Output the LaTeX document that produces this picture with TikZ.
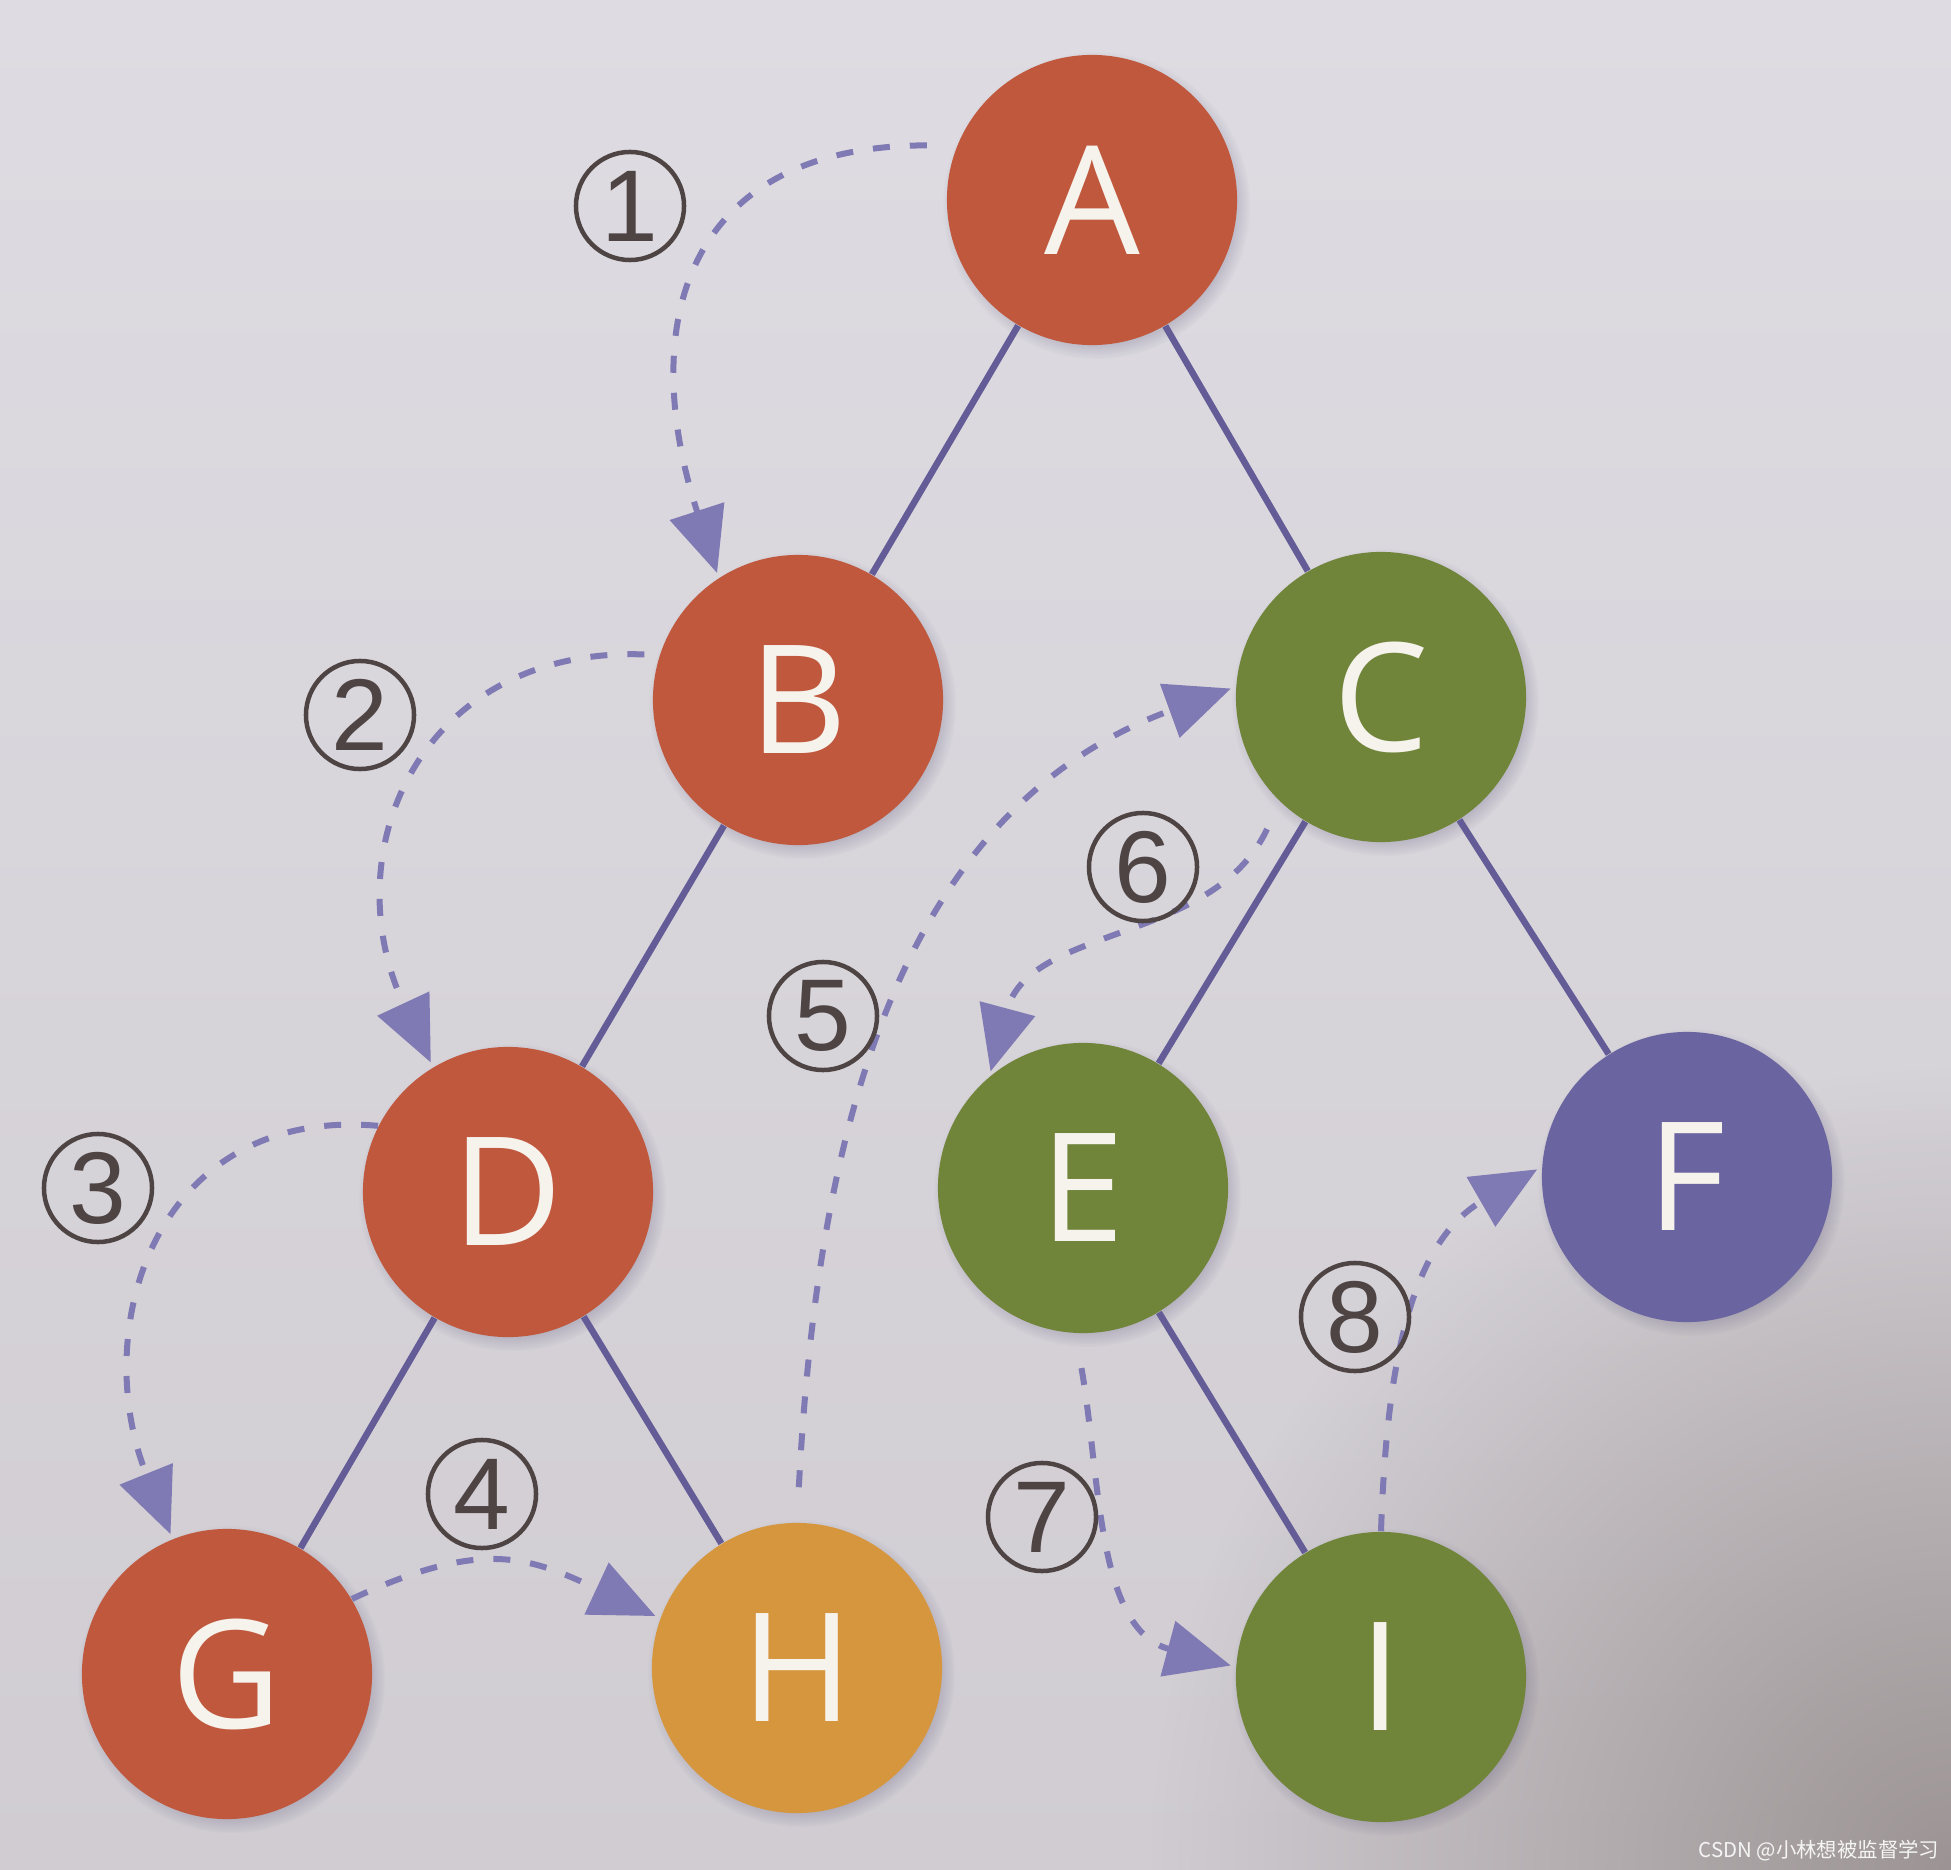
\documentclass[tikz,border=0pt]{standalone}
\usepackage{fontspec}
\setmainfont{Open Sans}
\newfontfamily\numfont{Liberation Sans}
\newfontfamily\cjkfont{Noto Sans CJK SC}
\usetikzlibrary{arrows.meta,shadows,fadings}
\tikzfading[name=cornerfade, inner color=transparent!0, outer color=transparent!100]
\definecolor{papertop}{RGB}{222,220,226}
\definecolor{paperbot}{RGB}{208,204,210}
\definecolor{cornerdark}{RGB}{156,148,148}
\definecolor{redball}{RGB}{192,88,62}
\definecolor{orangeball}{RGB}{214,150,62}
\definecolor{greenball}{RGB}{112,132,58}
\definecolor{blueball}{RGB}{106,100,160}
\definecolor{edgecol}{RGB}{100,92,150}
\definecolor{dashcol}{RGB}{128,122,180}
\definecolor{numcol}{RGB}{78,68,68}
\definecolor{lettercol}{RGB}{246,242,236}
\tikzset{
  vertex/.style={circle, minimum size=2.9cm, inner sep=0pt, text=lettercol,
    font=\fontsize{43}{48}\selectfont,
    circular drop shadow={shadow xshift=0.04cm, shadow yshift=-0.05cm, shadow scale=1.06, opacity=0.3, fill=edgecol!70!black}},
  link/.style={draw=edgecol, line width=0.065cm},
  visit/.style={draw=dashcol, line width=0.06cm, dash pattern=on 0.17cm off 0.2cm,
    shorten >=0.05cm, -{Triangle[length=0.65cm,width=0.56cm]}},
  order/.style={circle, draw=numcol, line width=0.045cm, minimum size=1.08cm, inner sep=0pt,
    text=numcol, font=\numfont\fontsize{29}{30}\selectfont}
}
\begin{document}
\begin{tikzpicture}[x=0.01cm, y=-0.01cm]
\useasboundingbox (0,0) rectangle (1951,1870);
% paper
\shade[top color=papertop, bottom color=paperbot] (0,0) rectangle (1951,1870);
\begin{scope}
\clip (0,0) rectangle (1951,1870);
\fill[cornerdark, path fading=cornerfade] (1951,1870) circle (8cm);
\end{scope}
% tree
\node [vertex, fill=redball] (A) at (1092,200) {A};
\node [vertex, fill=redball] (B) at (798,700) {B};
\node [vertex, fill=greenball] (C) at (1381,697) {C};
\node [vertex, fill=redball] (D) at (508,1192) {D};
\node [vertex, fill=greenball] (E) at (1083,1188) {E};
\node [vertex, fill=blueball] (F) at (1687,1177) {F};
\node [vertex, fill=redball] (G) at (227,1674) {G};
\node [vertex, fill=orangeball] (H) at (797,1668) {H};
\node [vertex, fill=greenball] (I) at (1381,1677) {I};
\draw[link] (A) -- (B);
\draw[link] (A) -- (C);
\draw[link] (B) -- (D);
\draw[link] (C) -- (E);
\draw[link] (C) -- (F);
\draw[link] (D) -- (G);
\draw[link] (D) -- (H);
\draw[link] (E) -- (I);
% visiting order
\draw[visit, shorten <=0.3cm] (A.158) to[out=180, in=108, looseness=1.4] (B.123);
\draw[visit, shorten <=0.15cm] (B.162) to[out=178, in=115, looseness=1.3] (D.121);
\draw[visit] (D.153) to[out=175, in=112, looseness=1.25] (G.112);
\draw[visit] (G.31) to[out=25, in=155, looseness=1.2] (H.160);
\draw[visit, shorten <=0.35cm] (H.90) to[out=87, in=200] (C.176);
\draw[visit, shorten <=0.3cm] (C.226) to[out=245, in=75] (E.130);
\draw[visit, shorten <=0.35cm] (E.267) to[out=280, in=165] (I.176);
\draw[visit] (I.90) to[out=88, in=210] (F.176);
\node [order] (n1) at (630,206) {1};
\node [order] (n2) at (360,715) {2};
\node [order] (n3) at (98,1188) {3};
\node [order] (n4) at (482,1494) {4};
\node [order] (n5) at (823,1016) {5};
\node [order] (n6) at (1143,867) {6};
\node [order] (n7) at (1042,1517) {7};
\node [order] (n8) at (1355,1317) {8};
\node [anchor=east, text=white!92!gray, font=\cjkfont\fontsize{5.8}{6}\selectfont, inner sep=0pt] (mark) at (1940,1851) {CSDN @小林想被监督学习};
\end{tikzpicture}
\end{document}
